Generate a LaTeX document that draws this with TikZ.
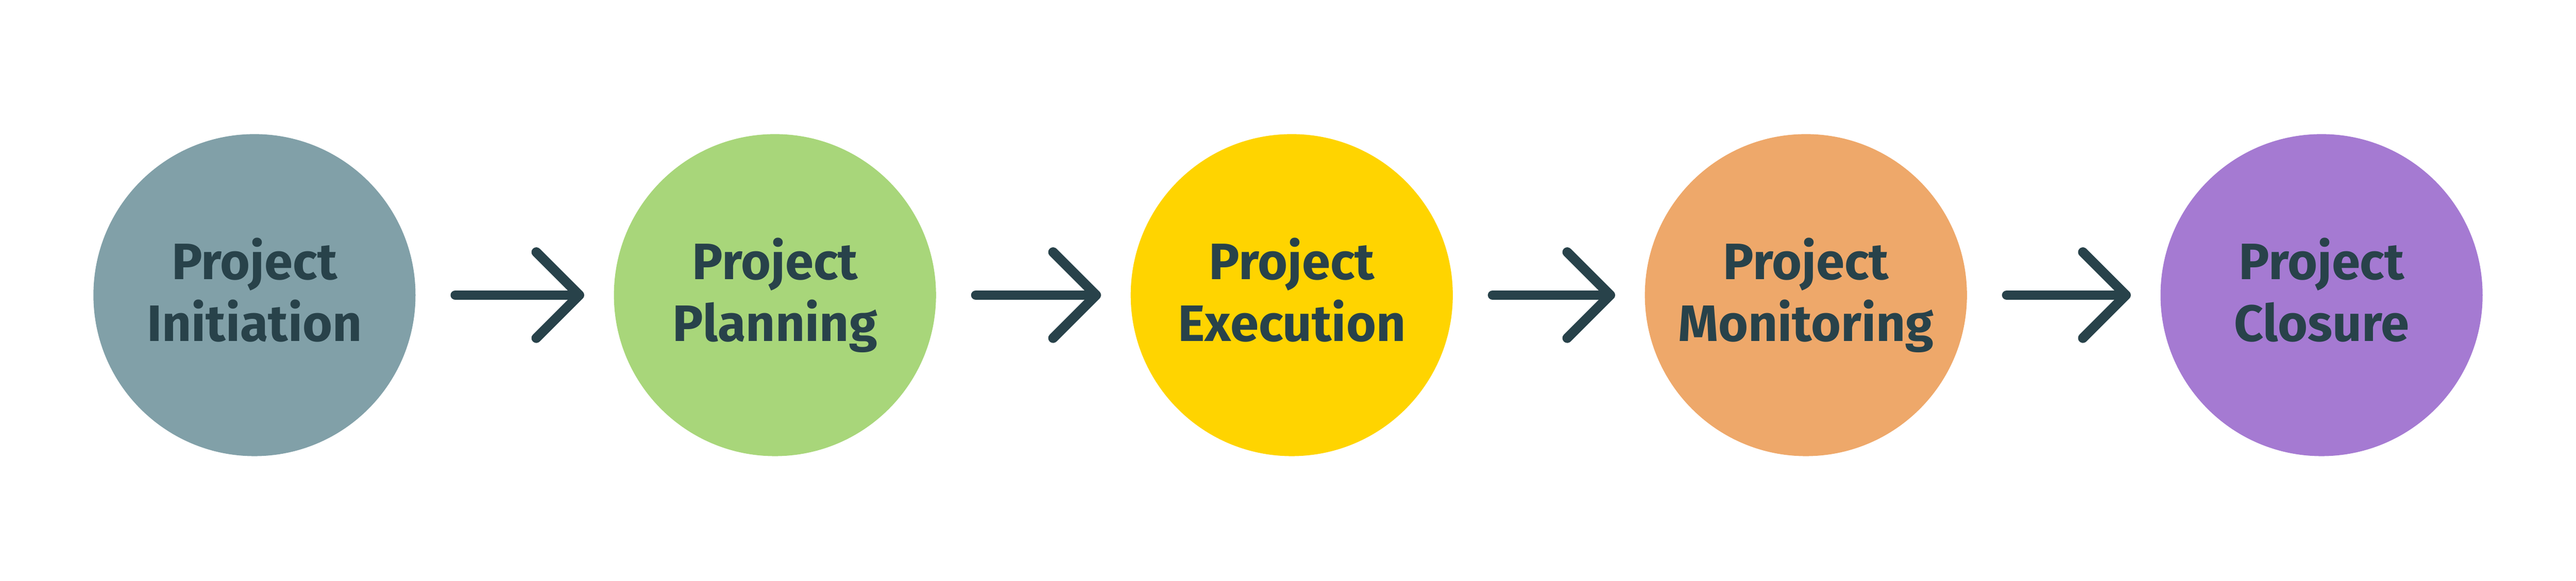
\documentclass[tikz,border=0pt]{standalone}
\usepackage{fontspec}
\setmainfont{Fira Sans}
\usetikzlibrary{calc}
\definecolor{ink}{RGB}{40,66,74}
\definecolor{cA}{RGB}{129,160,168}
\definecolor{cB}{RGB}{168,214,122}
\definecolor{cC}{RGB}{255,212,0}
\definecolor{cD}{RGB}{238,168,106}
\definecolor{cE}{RGB}{165,122,210}
\tikzset{
  phase/.style={circle, draw=none, fill=#1, minimum size=8.62cm, inner sep=0pt},
  lbl/.style={anchor=base, inner sep=0pt, text=ink, font=\fontsize{39}{47}\selectfont\bfseries},
  arr/.style={draw=ink, line width=0.26cm, line cap=round, line join=round},
}
\begin{document}
\begin{tikzpicture}
\useasboundingbox (0,0) rectangle (68.94,15.55);
\node[phase=cA] (c1) at (6.81,7.65) {};
\node[phase=cB] (c2) at (20.74,7.65) {};
\node[phase=cC] (c3) at (34.57,7.65) {};
\node[phase=cD] (c4) at (48.33,7.65) {};
\node[phase=cE] (c5) at (62.13,7.65) {};
\foreach \i/\a/\b in {1/Project/Initiation,2/Project/Planning,3/Project/Execution,4/Project/Monitoring,5/Project/Closure}{
  \node[lbl] (t\i a) at ([yshift=0.42cm]c\i.center) {\a};
  \node[lbl] (t\i b) at ([yshift=-1.24cm]c\i.center) {\b};
}
\foreach \i/\j in {1/2,2/3,3/4,4/5}{
  \coordinate (s\i) at ([xshift=1.06cm]c\i.east);
  \coordinate (e\i) at ([xshift=-0.92cm]c\j.west);
  \draw[arr] (s\i) -- (e\i);
  \draw[arr] (e\i) ++(-1.15,1.15) -- (e\i) -- ++(-1.15,-1.15);
}
\end{tikzpicture}
\end{document}
